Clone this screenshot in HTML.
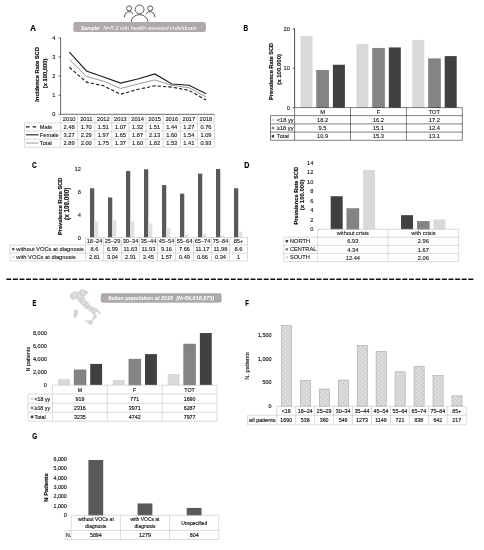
<!DOCTYPE html>
<html><head><meta charset="utf-8"><title>Figure</title>
<style>html,body{margin:0;padding:0;background:#fff;}svg{display:block;font-family:"Liberation Sans", sans-serif;}</style></head>
<body><svg width="484" height="550" viewBox="0 0 484 550">
<rect width="484" height="550" fill="#fff"/>
<text x="30.20" y="30.80" font-size="8.7" text-anchor="start" font-weight="bold" font-style="normal" fill="#000" textLength="5.6" lengthAdjust="spacingAndGlyphs" stroke="#000" stroke-width="0.2">A</text>
<text x="243.40" y="30.80" font-size="8.7" text-anchor="start" font-weight="bold" font-style="normal" fill="#000" textLength="4.6" lengthAdjust="spacingAndGlyphs" stroke="#000" stroke-width="0.2">B</text>
<text x="32.10" y="167.50" font-size="8.7" text-anchor="start" font-weight="bold" font-style="normal" fill="#000" textLength="4.7" lengthAdjust="spacingAndGlyphs" stroke="#000" stroke-width="0.2">C</text>
<text x="244.30" y="167.50" font-size="8.7" text-anchor="start" font-weight="bold" font-style="normal" fill="#000" textLength="5.1" lengthAdjust="spacingAndGlyphs" stroke="#000" stroke-width="0.2">D</text>
<text x="32.50" y="305.60" font-size="8.7" text-anchor="start" font-weight="bold" font-style="normal" fill="#000" textLength="3.7" lengthAdjust="spacingAndGlyphs" stroke="#000" stroke-width="0.2">E</text>
<text x="245.20" y="305.60" font-size="8.7" text-anchor="start" font-weight="bold" font-style="normal" fill="#000" textLength="3.6" lengthAdjust="spacingAndGlyphs" stroke="#000" stroke-width="0.2">F</text>
<text x="32.30" y="438.50" font-size="8.7" text-anchor="start" font-weight="bold" font-style="normal" fill="#000" textLength="4.9" lengthAdjust="spacingAndGlyphs" stroke="#000" stroke-width="0.2">G</text>
<rect x="73.30" y="22.10" width="132.60" height="9.90" fill="#aeaaaa" stroke="none" stroke-width="0" rx="2.5"/>
<text x="81" y="29.6" font-size="5.6" fill="#fff" font-style="italic" font-weight="bold" textLength="19.6" lengthAdjust="spacingAndGlyphs">Sample:</text>
<text x="103.3" y="29.6" font-size="5.6" fill="#fff" font-style="italic" textLength="93.1" lengthAdjust="spacingAndGlyphs">N=5.3 mln health-assisted individuals</text>
<g fill="none" stroke="#585858" stroke-width="1"><circle cx="139.6" cy="9.4" r="4.4"/><path d="M131.2 21.9 A8.4 7.2 0 0 1 148 21.9"/><circle cx="129" cy="8.4" r="2.5"/><path d="M124.3 17.2 A5 5.6 0 0 1 133.4 14"/><circle cx="150.2" cy="8.4" r="2.5"/><path d="M145.8 14 A5 5.6 0 0 1 154.9 17.2"/></g>
<line x1="60.60" y1="38.00" x2="60.60" y2="114.30" stroke="#3a3a3a" stroke-width="0.75" />
<line x1="60.60" y1="114.30" x2="214.50" y2="114.30" stroke="#3a3a3a" stroke-width="0.75" />
<line x1="58.60" y1="114.30" x2="60.60" y2="114.30" stroke="#222" stroke-width="0.7" />
<text x="55.40" y="116.40" font-size="5.7" text-anchor="end" font-weight="normal" font-style="normal" fill="#1a1a1a"  stroke="#1a1a1a" stroke-width="0.12">0</text>
<line x1="58.60" y1="95.22" x2="60.60" y2="95.22" stroke="#222" stroke-width="0.7" />
<text x="55.40" y="97.32" font-size="5.7" text-anchor="end" font-weight="normal" font-style="normal" fill="#1a1a1a"  stroke="#1a1a1a" stroke-width="0.12">1</text>
<line x1="58.60" y1="76.14" x2="60.60" y2="76.14" stroke="#222" stroke-width="0.7" />
<text x="55.40" y="78.24" font-size="5.7" text-anchor="end" font-weight="normal" font-style="normal" fill="#1a1a1a"  stroke="#1a1a1a" stroke-width="0.12">2</text>
<line x1="58.60" y1="57.06" x2="60.60" y2="57.06" stroke="#222" stroke-width="0.7" />
<text x="55.40" y="59.16" font-size="5.7" text-anchor="end" font-weight="normal" font-style="normal" fill="#1a1a1a"  stroke="#1a1a1a" stroke-width="0.12">3</text>
<line x1="58.60" y1="37.98" x2="60.60" y2="37.98" stroke="#222" stroke-width="0.7" />
<text x="55.40" y="40.08" font-size="5.7" text-anchor="end" font-weight="normal" font-style="normal" fill="#1a1a1a"  stroke="#1a1a1a" stroke-width="0.12">4</text>
<text transform="translate(39.30,74.40) rotate(-90)" font-size="5.8" text-anchor="middle" font-weight="bold" fill="#111"  stroke="#111" stroke-width="0.18">Incidence Rate SCD</text>
<text transform="translate(47.20,73.40) rotate(-90)" font-size="5.8" text-anchor="middle" font-weight="bold" fill="#111"  stroke="#111" stroke-width="0.18">(x 100,000)</text>
<polyline points="69.35,59.46 86.45,76.44 103.55,81.21 120.65,88.46 137.75,84.07 154.85,79.87 171.95,85.41 189.05,87.70 206.15,96.86" fill="none" stroke="#9a9a9a" stroke-width="1"/>
<polyline points="69.35,52.21 86.45,70.91 103.55,77.01 120.65,83.12 137.75,78.92 154.85,73.96 171.95,84.07 189.05,85.22 206.15,93.80" fill="none" stroke="#1a1a1a" stroke-width="1.1"/>
<polyline points="69.35,67.28 86.45,82.16 103.55,85.79 120.65,94.18 137.75,89.41 154.85,85.79 171.95,87.12 189.05,90.37 206.15,100.10" fill="none" stroke="#1a1a1a" stroke-width="1.1" stroke-dasharray="3.4 2"/>
<line x1="24.50" y1="122.90" x2="214.50" y2="122.90" stroke="#c4c4c4" stroke-width="0.6" />
<line x1="24.50" y1="131.05" x2="214.50" y2="131.05" stroke="#c4c4c4" stroke-width="0.6" />
<line x1="24.50" y1="139.20" x2="214.50" y2="139.20" stroke="#c4c4c4" stroke-width="0.6" />
<line x1="24.50" y1="147.40" x2="214.50" y2="147.40" stroke="#c4c4c4" stroke-width="0.6" />
<line x1="24.50" y1="122.90" x2="24.50" y2="147.40" stroke="#c4c4c4" stroke-width="0.6" />
<line x1="60.60" y1="114.30" x2="60.60" y2="147.40" stroke="#c4c4c4" stroke-width="0.6" />
<line x1="77.70" y1="114.30" x2="77.70" y2="147.40" stroke="#c4c4c4" stroke-width="0.6" />
<line x1="94.80" y1="114.30" x2="94.80" y2="147.40" stroke="#c4c4c4" stroke-width="0.6" />
<line x1="111.90" y1="114.30" x2="111.90" y2="147.40" stroke="#c4c4c4" stroke-width="0.6" />
<line x1="129.00" y1="114.30" x2="129.00" y2="147.40" stroke="#c4c4c4" stroke-width="0.6" />
<line x1="146.10" y1="114.30" x2="146.10" y2="147.40" stroke="#c4c4c4" stroke-width="0.6" />
<line x1="163.20" y1="114.30" x2="163.20" y2="147.40" stroke="#c4c4c4" stroke-width="0.6" />
<line x1="180.30" y1="114.30" x2="180.30" y2="147.40" stroke="#c4c4c4" stroke-width="0.6" />
<line x1="197.40" y1="114.30" x2="197.40" y2="147.40" stroke="#c4c4c4" stroke-width="0.6" />
<line x1="214.50" y1="114.30" x2="214.50" y2="147.40" stroke="#c4c4c4" stroke-width="0.6" />
<text x="69.15" y="121.20" font-size="5.7" text-anchor="middle" font-weight="normal" font-style="normal" fill="#1a1a1a"  stroke="#1a1a1a" stroke-width="0.12">2010</text>
<text x="86.25" y="121.20" font-size="5.7" text-anchor="middle" font-weight="normal" font-style="normal" fill="#1a1a1a"  stroke="#1a1a1a" stroke-width="0.12">2011</text>
<text x="103.35" y="121.20" font-size="5.7" text-anchor="middle" font-weight="normal" font-style="normal" fill="#1a1a1a"  stroke="#1a1a1a" stroke-width="0.12">2012</text>
<text x="120.45" y="121.20" font-size="5.7" text-anchor="middle" font-weight="normal" font-style="normal" fill="#1a1a1a"  stroke="#1a1a1a" stroke-width="0.12">2013</text>
<text x="137.55" y="121.20" font-size="5.7" text-anchor="middle" font-weight="normal" font-style="normal" fill="#1a1a1a"  stroke="#1a1a1a" stroke-width="0.12">2014</text>
<text x="154.65" y="121.20" font-size="5.7" text-anchor="middle" font-weight="normal" font-style="normal" fill="#1a1a1a"  stroke="#1a1a1a" stroke-width="0.12">2015</text>
<text x="171.75" y="121.20" font-size="5.7" text-anchor="middle" font-weight="normal" font-style="normal" fill="#1a1a1a"  stroke="#1a1a1a" stroke-width="0.12">2016</text>
<text x="188.85" y="121.20" font-size="5.7" text-anchor="middle" font-weight="normal" font-style="normal" fill="#1a1a1a"  stroke="#1a1a1a" stroke-width="0.12">2017</text>
<text x="205.95" y="121.20" font-size="5.7" text-anchor="middle" font-weight="normal" font-style="normal" fill="#1a1a1a"  stroke="#1a1a1a" stroke-width="0.12">2018</text>
<text x="39.80" y="129.10" font-size="5.7" text-anchor="start" font-weight="normal" font-style="normal" fill="#1a1a1a"  stroke="#1a1a1a" stroke-width="0.12">Male</text>
<text x="69.15" y="129.10" font-size="5.7" text-anchor="middle" font-weight="normal" font-style="normal" fill="#1a1a1a"  stroke="#1a1a1a" stroke-width="0.12">2.48</text>
<text x="86.25" y="129.10" font-size="5.7" text-anchor="middle" font-weight="normal" font-style="normal" fill="#1a1a1a"  stroke="#1a1a1a" stroke-width="0.12">1.70</text>
<text x="103.35" y="129.10" font-size="5.7" text-anchor="middle" font-weight="normal" font-style="normal" fill="#1a1a1a"  stroke="#1a1a1a" stroke-width="0.12">1.51</text>
<text x="120.45" y="129.10" font-size="5.7" text-anchor="middle" font-weight="normal" font-style="normal" fill="#1a1a1a"  stroke="#1a1a1a" stroke-width="0.12">1.07</text>
<text x="137.55" y="129.10" font-size="5.7" text-anchor="middle" font-weight="normal" font-style="normal" fill="#1a1a1a"  stroke="#1a1a1a" stroke-width="0.12">1.32</text>
<text x="154.65" y="129.10" font-size="5.7" text-anchor="middle" font-weight="normal" font-style="normal" fill="#1a1a1a"  stroke="#1a1a1a" stroke-width="0.12">1.51</text>
<text x="171.75" y="129.10" font-size="5.7" text-anchor="middle" font-weight="normal" font-style="normal" fill="#1a1a1a"  stroke="#1a1a1a" stroke-width="0.12">1.44</text>
<text x="188.85" y="129.10" font-size="5.7" text-anchor="middle" font-weight="normal" font-style="normal" fill="#1a1a1a"  stroke="#1a1a1a" stroke-width="0.12">1.27</text>
<text x="205.95" y="129.10" font-size="5.7" text-anchor="middle" font-weight="normal" font-style="normal" fill="#1a1a1a"  stroke="#1a1a1a" stroke-width="0.12">0.76</text>
<text x="39.80" y="137.00" font-size="5.7" text-anchor="start" font-weight="normal" font-style="normal" fill="#1a1a1a"  stroke="#1a1a1a" stroke-width="0.12">Female</text>
<text x="69.15" y="137.00" font-size="5.7" text-anchor="middle" font-weight="normal" font-style="normal" fill="#1a1a1a"  stroke="#1a1a1a" stroke-width="0.12">3.27</text>
<text x="86.25" y="137.00" font-size="5.7" text-anchor="middle" font-weight="normal" font-style="normal" fill="#1a1a1a"  stroke="#1a1a1a" stroke-width="0.12">2.29</text>
<text x="103.35" y="137.00" font-size="5.7" text-anchor="middle" font-weight="normal" font-style="normal" fill="#1a1a1a"  stroke="#1a1a1a" stroke-width="0.12">1.97</text>
<text x="120.45" y="137.00" font-size="5.7" text-anchor="middle" font-weight="normal" font-style="normal" fill="#1a1a1a"  stroke="#1a1a1a" stroke-width="0.12">1.65</text>
<text x="137.55" y="137.00" font-size="5.7" text-anchor="middle" font-weight="normal" font-style="normal" fill="#1a1a1a"  stroke="#1a1a1a" stroke-width="0.12">1.87</text>
<text x="154.65" y="137.00" font-size="5.7" text-anchor="middle" font-weight="normal" font-style="normal" fill="#1a1a1a"  stroke="#1a1a1a" stroke-width="0.12">2.13</text>
<text x="171.75" y="137.00" font-size="5.7" text-anchor="middle" font-weight="normal" font-style="normal" fill="#1a1a1a"  stroke="#1a1a1a" stroke-width="0.12">1.60</text>
<text x="188.85" y="137.00" font-size="5.7" text-anchor="middle" font-weight="normal" font-style="normal" fill="#1a1a1a"  stroke="#1a1a1a" stroke-width="0.12">1.54</text>
<text x="205.95" y="137.00" font-size="5.7" text-anchor="middle" font-weight="normal" font-style="normal" fill="#1a1a1a"  stroke="#1a1a1a" stroke-width="0.12">1.09</text>
<text x="39.80" y="145.00" font-size="5.7" text-anchor="start" font-weight="normal" font-style="normal" fill="#1a1a1a"  stroke="#1a1a1a" stroke-width="0.12">Total</text>
<text x="69.15" y="145.00" font-size="5.7" text-anchor="middle" font-weight="normal" font-style="normal" fill="#1a1a1a"  stroke="#1a1a1a" stroke-width="0.12">2.89</text>
<text x="86.25" y="145.00" font-size="5.7" text-anchor="middle" font-weight="normal" font-style="normal" fill="#1a1a1a"  stroke="#1a1a1a" stroke-width="0.12">2.00</text>
<text x="103.35" y="145.00" font-size="5.7" text-anchor="middle" font-weight="normal" font-style="normal" fill="#1a1a1a"  stroke="#1a1a1a" stroke-width="0.12">1.75</text>
<text x="120.45" y="145.00" font-size="5.7" text-anchor="middle" font-weight="normal" font-style="normal" fill="#1a1a1a"  stroke="#1a1a1a" stroke-width="0.12">1.37</text>
<text x="137.55" y="145.00" font-size="5.7" text-anchor="middle" font-weight="normal" font-style="normal" fill="#1a1a1a"  stroke="#1a1a1a" stroke-width="0.12">1.60</text>
<text x="154.65" y="145.00" font-size="5.7" text-anchor="middle" font-weight="normal" font-style="normal" fill="#1a1a1a"  stroke="#1a1a1a" stroke-width="0.12">1.82</text>
<text x="171.75" y="145.00" font-size="5.7" text-anchor="middle" font-weight="normal" font-style="normal" fill="#1a1a1a"  stroke="#1a1a1a" stroke-width="0.12">1.53</text>
<text x="188.85" y="145.00" font-size="5.7" text-anchor="middle" font-weight="normal" font-style="normal" fill="#1a1a1a"  stroke="#1a1a1a" stroke-width="0.12">1.41</text>
<text x="205.95" y="145.00" font-size="5.7" text-anchor="middle" font-weight="normal" font-style="normal" fill="#1a1a1a"  stroke="#1a1a1a" stroke-width="0.12">0.93</text>
<line x1="26.00" y1="126.90" x2="36.20" y2="126.90" stroke="#1a1a1a" stroke-width="1.1" stroke-dasharray="3.4 3.3"/>
<line x1="26.00" y1="134.80" x2="38.60" y2="134.80" stroke="#1a1a1a" stroke-width="1.1" />
<line x1="26.00" y1="143.00" x2="38.40" y2="143.00" stroke="#9a9a9a" stroke-width="1" />
<line x1="294.60" y1="28.50" x2="294.60" y2="107.70" stroke="#222" stroke-width="0.8" />
<line x1="292.60" y1="107.70" x2="294.60" y2="107.70" stroke="#222" stroke-width="0.7" />
<text x="289.80" y="109.80" font-size="5.7" text-anchor="end" font-weight="normal" font-style="normal" fill="#1a1a1a"  stroke="#1a1a1a" stroke-width="0.12">0</text>
<line x1="292.60" y1="68.30" x2="294.60" y2="68.30" stroke="#222" stroke-width="0.7" />
<text x="289.80" y="70.40" font-size="5.7" text-anchor="end" font-weight="normal" font-style="normal" fill="#1a1a1a"  stroke="#1a1a1a" stroke-width="0.12">10</text>
<line x1="292.60" y1="28.90" x2="294.60" y2="28.90" stroke="#222" stroke-width="0.7" />
<text x="289.80" y="31.00" font-size="5.7" text-anchor="end" font-weight="normal" font-style="normal" fill="#1a1a1a"  stroke="#1a1a1a" stroke-width="0.12">20</text>
<text transform="translate(273.20,71.40) rotate(-90)" font-size="5.65" text-anchor="middle" font-weight="bold" fill="#111"  stroke="#111" stroke-width="0.18">Prevalence Rate SCD</text>
<text transform="translate(280.60,69.40) rotate(-90)" font-size="6.05" text-anchor="middle" font-weight="bold" fill="#111"  stroke="#111" stroke-width="0.18">(x 100.000)</text>
<rect x="300.50" y="35.99" width="12.00" height="71.71" fill="#d9d9d9" stroke="none" stroke-width="0" />
<rect x="316.70" y="70.27" width="12.00" height="37.43" fill="#848484" stroke="#6c6c6c" stroke-width="0.5" />
<rect x="332.90" y="64.75" width="12.00" height="42.95" fill="#404040" stroke="none" stroke-width="0" />
<rect x="356.40" y="43.87" width="12.00" height="63.83" fill="#d9d9d9" stroke="none" stroke-width="0" />
<rect x="372.60" y="48.21" width="12.00" height="59.49" fill="#848484" stroke="#6c6c6c" stroke-width="0.5" />
<rect x="388.80" y="47.42" width="12.00" height="60.28" fill="#404040" stroke="none" stroke-width="0" />
<rect x="412.30" y="39.93" width="12.00" height="67.77" fill="#d9d9d9" stroke="none" stroke-width="0" />
<rect x="428.50" y="58.84" width="12.00" height="48.86" fill="#848484" stroke="#6c6c6c" stroke-width="0.5" />
<rect x="444.70" y="56.09" width="12.00" height="51.61" fill="#404040" stroke="none" stroke-width="0" />
<line x1="294.60" y1="107.60" x2="462.30" y2="107.60" stroke="#2a2a2a" stroke-width="0.6" />
<line x1="270.50" y1="115.60" x2="462.30" y2="115.60" stroke="#2a2a2a" stroke-width="0.6" />
<line x1="270.50" y1="123.90" x2="462.30" y2="123.90" stroke="#2a2a2a" stroke-width="0.6" />
<line x1="270.50" y1="132.10" x2="462.30" y2="132.10" stroke="#2a2a2a" stroke-width="0.6" />
<line x1="270.50" y1="140.30" x2="462.30" y2="140.30" stroke="#2a2a2a" stroke-width="0.6" />
<line x1="270.50" y1="115.60" x2="270.50" y2="140.30" stroke="#2a2a2a" stroke-width="0.6" />
<line x1="294.60" y1="107.60" x2="294.60" y2="140.30" stroke="#2a2a2a" stroke-width="0.6" />
<line x1="350.50" y1="107.60" x2="350.50" y2="140.30" stroke="#2a2a2a" stroke-width="0.6" />
<line x1="406.40" y1="107.60" x2="406.40" y2="140.30" stroke="#2a2a2a" stroke-width="0.6" />
<line x1="462.30" y1="107.60" x2="462.30" y2="140.30" stroke="#2a2a2a" stroke-width="0.6" />
<text x="322.55" y="113.80" font-size="5.7" text-anchor="middle" font-weight="normal" font-style="normal" fill="#1a1a1a"  stroke="#1a1a1a" stroke-width="0.12">M</text>
<text x="378.45" y="113.80" font-size="5.7" text-anchor="middle" font-weight="normal" font-style="normal" fill="#1a1a1a"  stroke="#1a1a1a" stroke-width="0.12">F</text>
<text x="434.35" y="113.80" font-size="5.7" text-anchor="middle" font-weight="normal" font-style="normal" fill="#1a1a1a"  stroke="#1a1a1a" stroke-width="0.12">TOT</text>
<rect x="271.70" y="118.50" width="2.50" height="2.50" fill="#d9d9d9" stroke="none" stroke-width="0" />
<text x="276.80" y="121.90" font-size="5.7" text-anchor="start" font-weight="normal" font-style="normal" fill="#1a1a1a"  stroke="#1a1a1a" stroke-width="0.12">&lt;18 yy</text>
<text x="322.55" y="121.90" font-size="5.7" text-anchor="middle" font-weight="normal" font-style="normal" fill="#1a1a1a"  stroke="#1a1a1a" stroke-width="0.12">18.2</text>
<text x="378.45" y="121.90" font-size="5.7" text-anchor="middle" font-weight="normal" font-style="normal" fill="#1a1a1a"  stroke="#1a1a1a" stroke-width="0.12">16.2</text>
<text x="434.35" y="121.90" font-size="5.7" text-anchor="middle" font-weight="normal" font-style="normal" fill="#1a1a1a"  stroke="#1a1a1a" stroke-width="0.12">17.2</text>
<rect x="271.70" y="126.80" width="2.50" height="2.50" fill="#848484" stroke="none" stroke-width="0" />
<text x="276.80" y="130.20" font-size="5.7" text-anchor="start" font-weight="normal" font-style="normal" fill="#1a1a1a"  stroke="#1a1a1a" stroke-width="0.12">≥18 yy</text>
<text x="322.55" y="130.20" font-size="5.7" text-anchor="middle" font-weight="normal" font-style="normal" fill="#1a1a1a"  stroke="#1a1a1a" stroke-width="0.12">9.5</text>
<text x="378.45" y="130.20" font-size="5.7" text-anchor="middle" font-weight="normal" font-style="normal" fill="#1a1a1a"  stroke="#1a1a1a" stroke-width="0.12">15.1</text>
<text x="434.35" y="130.20" font-size="5.7" text-anchor="middle" font-weight="normal" font-style="normal" fill="#1a1a1a"  stroke="#1a1a1a" stroke-width="0.12">12.4</text>
<rect x="271.70" y="135.00" width="2.50" height="2.50" fill="#404040" stroke="none" stroke-width="0" />
<text x="276.80" y="138.40" font-size="5.7" text-anchor="start" font-weight="normal" font-style="normal" fill="#1a1a1a"  stroke="#1a1a1a" stroke-width="0.12">Total</text>
<text x="322.55" y="138.40" font-size="5.7" text-anchor="middle" font-weight="normal" font-style="normal" fill="#1a1a1a"  stroke="#1a1a1a" stroke-width="0.12">10.9</text>
<text x="378.45" y="138.40" font-size="5.7" text-anchor="middle" font-weight="normal" font-style="normal" fill="#1a1a1a"  stroke="#1a1a1a" stroke-width="0.12">15.3</text>
<text x="434.35" y="138.40" font-size="5.7" text-anchor="middle" font-weight="normal" font-style="normal" fill="#1a1a1a"  stroke="#1a1a1a" stroke-width="0.12">13.1</text>
<text x="80.80" y="239.50" font-size="5.7" text-anchor="end" font-weight="normal" font-style="normal" fill="#1a1a1a"  stroke="#1a1a1a" stroke-width="0.12">0</text>
<text x="80.80" y="216.66" font-size="5.7" text-anchor="end" font-weight="normal" font-style="normal" fill="#1a1a1a"  stroke="#1a1a1a" stroke-width="0.12">4</text>
<text x="80.80" y="193.82" font-size="5.7" text-anchor="end" font-weight="normal" font-style="normal" fill="#1a1a1a"  stroke="#1a1a1a" stroke-width="0.12">8</text>
<text x="80.80" y="170.98" font-size="5.7" text-anchor="end" font-weight="normal" font-style="normal" fill="#1a1a1a"  stroke="#1a1a1a" stroke-width="0.12">12</text>
<text transform="translate(62.00,206.30) rotate(-90)" font-size="5.7" text-anchor="middle" font-weight="bold" fill="#111"  stroke="#111" stroke-width="0.18">Prevalence Rate SCD</text>
<text transform="translate(69.00,203.80) rotate(-90)" font-size="6.3" text-anchor="middle" font-weight="bold" fill="#111"  stroke="#111" stroke-width="0.18">(x 100.000)</text>
<rect x="90.00" y="188.29" width="4.25" height="49.11" fill="#595959" stroke="none" stroke-width="0" />
<rect x="94.25" y="221.35" width="4.10" height="16.05" fill="#e0e0e0" stroke="none" stroke-width="0" />
<rect x="108.00" y="197.49" width="4.25" height="39.91" fill="#595959" stroke="none" stroke-width="0" />
<rect x="112.25" y="220.04" width="4.10" height="17.36" fill="#e0e0e0" stroke="none" stroke-width="0" />
<rect x="126.00" y="170.99" width="4.25" height="66.41" fill="#595959" stroke="none" stroke-width="0" />
<rect x="130.25" y="220.78" width="4.10" height="16.62" fill="#e0e0e0" stroke="none" stroke-width="0" />
<rect x="144.00" y="169.28" width="4.25" height="68.12" fill="#595959" stroke="none" stroke-width="0" />
<rect x="148.25" y="223.41" width="4.10" height="13.99" fill="#e0e0e0" stroke="none" stroke-width="0" />
<rect x="162.00" y="185.10" width="4.25" height="52.30" fill="#595959" stroke="none" stroke-width="0" />
<rect x="166.25" y="228.44" width="4.10" height="8.96" fill="#e0e0e0" stroke="none" stroke-width="0" />
<rect x="180.00" y="193.66" width="4.25" height="43.74" fill="#595959" stroke="none" stroke-width="0" />
<rect x="184.25" y="234.60" width="4.10" height="2.80" fill="#e0e0e0" stroke="none" stroke-width="0" />
<rect x="198.00" y="173.62" width="4.25" height="63.78" fill="#595959" stroke="none" stroke-width="0" />
<rect x="202.25" y="233.63" width="4.10" height="3.77" fill="#e0e0e0" stroke="none" stroke-width="0" />
<rect x="216.00" y="168.99" width="4.25" height="68.41" fill="#595959" stroke="none" stroke-width="0" />
<rect x="220.25" y="235.46" width="4.10" height="1.94" fill="#e0e0e0" stroke="none" stroke-width="0" />
<rect x="234.00" y="188.29" width="4.25" height="49.11" fill="#595959" stroke="none" stroke-width="0" />
<rect x="238.25" y="231.69" width="4.10" height="5.71" fill="#e0e0e0" stroke="none" stroke-width="0" />
<line x1="85.50" y1="237.50" x2="247.50" y2="237.50" stroke="#c4c4c4" stroke-width="0.6" />
<line x1="10.00" y1="245.00" x2="247.50" y2="245.00" stroke="#c4c4c4" stroke-width="0.6" />
<line x1="10.00" y1="253.00" x2="247.50" y2="253.00" stroke="#c4c4c4" stroke-width="0.6" />
<line x1="10.00" y1="261.00" x2="247.50" y2="261.00" stroke="#c4c4c4" stroke-width="0.6" />
<line x1="10.00" y1="245.00" x2="10.00" y2="261.00" stroke="#c4c4c4" stroke-width="0.6" />
<line x1="85.50" y1="237.50" x2="85.50" y2="261.00" stroke="#c4c4c4" stroke-width="0.6" />
<line x1="103.50" y1="237.50" x2="103.50" y2="261.00" stroke="#c4c4c4" stroke-width="0.6" />
<line x1="121.50" y1="237.50" x2="121.50" y2="261.00" stroke="#c4c4c4" stroke-width="0.6" />
<line x1="139.50" y1="237.50" x2="139.50" y2="261.00" stroke="#c4c4c4" stroke-width="0.6" />
<line x1="157.50" y1="237.50" x2="157.50" y2="261.00" stroke="#c4c4c4" stroke-width="0.6" />
<line x1="175.50" y1="237.50" x2="175.50" y2="261.00" stroke="#c4c4c4" stroke-width="0.6" />
<line x1="193.50" y1="237.50" x2="193.50" y2="261.00" stroke="#c4c4c4" stroke-width="0.6" />
<line x1="211.50" y1="237.50" x2="211.50" y2="261.00" stroke="#c4c4c4" stroke-width="0.6" />
<line x1="229.50" y1="237.50" x2="229.50" y2="261.00" stroke="#c4c4c4" stroke-width="0.6" />
<line x1="247.50" y1="237.50" x2="247.50" y2="261.00" stroke="#c4c4c4" stroke-width="0.6" />
<text x="94.50" y="243.40" font-size="5.6" text-anchor="middle" font-weight="normal" font-style="normal" fill="#1a1a1a"  stroke="#1a1a1a" stroke-width="0.12">18–24</text>
<text x="112.50" y="243.40" font-size="5.6" text-anchor="middle" font-weight="normal" font-style="normal" fill="#1a1a1a"  stroke="#1a1a1a" stroke-width="0.12">25–29</text>
<text x="130.50" y="243.40" font-size="5.6" text-anchor="middle" font-weight="normal" font-style="normal" fill="#1a1a1a"  stroke="#1a1a1a" stroke-width="0.12">30–34</text>
<text x="148.50" y="243.40" font-size="5.6" text-anchor="middle" font-weight="normal" font-style="normal" fill="#1a1a1a"  stroke="#1a1a1a" stroke-width="0.12">35–44</text>
<text x="166.50" y="243.40" font-size="5.6" text-anchor="middle" font-weight="normal" font-style="normal" fill="#1a1a1a"  stroke="#1a1a1a" stroke-width="0.12">45–54</text>
<text x="184.50" y="243.40" font-size="5.6" text-anchor="middle" font-weight="normal" font-style="normal" fill="#1a1a1a"  stroke="#1a1a1a" stroke-width="0.12">55–64</text>
<text x="202.50" y="243.40" font-size="5.6" text-anchor="middle" font-weight="normal" font-style="normal" fill="#1a1a1a"  stroke="#1a1a1a" stroke-width="0.12">65–74</text>
<text x="220.50" y="243.40" font-size="5.6" text-anchor="middle" font-weight="normal" font-style="normal" fill="#1a1a1a"  stroke="#1a1a1a" stroke-width="0.12">75–84</text>
<text x="238.50" y="243.40" font-size="5.6" text-anchor="middle" font-weight="normal" font-style="normal" fill="#1a1a1a"  stroke="#1a1a1a" stroke-width="0.12">85+</text>
<rect x="12.10" y="247.90" width="2.40" height="2.40" fill="#595959" stroke="none" stroke-width="0" />
<text x="16.30" y="251.20" font-size="5.75" text-anchor="start" font-weight="normal" font-style="normal" fill="#1a1a1a"  stroke="#1a1a1a" stroke-width="0.12">without VOCs at diagnosis</text>
<text x="94.50" y="251.10" font-size="5.7" text-anchor="middle" font-weight="normal" font-style="normal" fill="#1a1a1a"  stroke="#1a1a1a" stroke-width="0.12">8.6</text>
<text x="112.50" y="251.10" font-size="5.7" text-anchor="middle" font-weight="normal" font-style="normal" fill="#1a1a1a"  stroke="#1a1a1a" stroke-width="0.12">6.99</text>
<text x="130.50" y="251.10" font-size="5.7" text-anchor="middle" font-weight="normal" font-style="normal" fill="#1a1a1a"  stroke="#1a1a1a" stroke-width="0.12">11.63</text>
<text x="148.50" y="251.10" font-size="5.7" text-anchor="middle" font-weight="normal" font-style="normal" fill="#1a1a1a"  stroke="#1a1a1a" stroke-width="0.12">11.93</text>
<text x="166.50" y="251.10" font-size="5.7" text-anchor="middle" font-weight="normal" font-style="normal" fill="#1a1a1a"  stroke="#1a1a1a" stroke-width="0.12">9.16</text>
<text x="184.50" y="251.10" font-size="5.7" text-anchor="middle" font-weight="normal" font-style="normal" fill="#1a1a1a"  stroke="#1a1a1a" stroke-width="0.12">7.66</text>
<text x="202.50" y="251.10" font-size="5.7" text-anchor="middle" font-weight="normal" font-style="normal" fill="#1a1a1a"  stroke="#1a1a1a" stroke-width="0.12">11.17</text>
<text x="220.50" y="251.10" font-size="5.7" text-anchor="middle" font-weight="normal" font-style="normal" fill="#1a1a1a"  stroke="#1a1a1a" stroke-width="0.12">11.98</text>
<text x="238.50" y="251.10" font-size="5.7" text-anchor="middle" font-weight="normal" font-style="normal" fill="#1a1a1a"  stroke="#1a1a1a" stroke-width="0.12">8.6</text>
<rect x="12.10" y="255.90" width="2.40" height="2.40" fill="#e0e0e0" stroke="none" stroke-width="0" />
<text x="16.30" y="259.20" font-size="5.75" text-anchor="start" font-weight="normal" font-style="normal" fill="#1a1a1a"  stroke="#1a1a1a" stroke-width="0.12">with VOCs at diagnosis</text>
<text x="94.50" y="259.10" font-size="5.7" text-anchor="middle" font-weight="normal" font-style="normal" fill="#1a1a1a"  stroke="#1a1a1a" stroke-width="0.12">2.81</text>
<text x="112.50" y="259.10" font-size="5.7" text-anchor="middle" font-weight="normal" font-style="normal" fill="#1a1a1a"  stroke="#1a1a1a" stroke-width="0.12">3.04</text>
<text x="130.50" y="259.10" font-size="5.7" text-anchor="middle" font-weight="normal" font-style="normal" fill="#1a1a1a"  stroke="#1a1a1a" stroke-width="0.12">2.91</text>
<text x="148.50" y="259.10" font-size="5.7" text-anchor="middle" font-weight="normal" font-style="normal" fill="#1a1a1a"  stroke="#1a1a1a" stroke-width="0.12">2.45</text>
<text x="166.50" y="259.10" font-size="5.7" text-anchor="middle" font-weight="normal" font-style="normal" fill="#1a1a1a"  stroke="#1a1a1a" stroke-width="0.12">1.57</text>
<text x="184.50" y="259.10" font-size="5.7" text-anchor="middle" font-weight="normal" font-style="normal" fill="#1a1a1a"  stroke="#1a1a1a" stroke-width="0.12">0.49</text>
<text x="202.50" y="259.10" font-size="5.7" text-anchor="middle" font-weight="normal" font-style="normal" fill="#1a1a1a"  stroke="#1a1a1a" stroke-width="0.12">0.66</text>
<text x="220.50" y="259.10" font-size="5.7" text-anchor="middle" font-weight="normal" font-style="normal" fill="#1a1a1a"  stroke="#1a1a1a" stroke-width="0.12">0.34</text>
<text x="238.50" y="259.10" font-size="5.7" text-anchor="middle" font-weight="normal" font-style="normal" fill="#1a1a1a"  stroke="#1a1a1a" stroke-width="0.12">1</text>
<text x="313.30" y="231.30" font-size="5.7" text-anchor="end" font-weight="normal" font-style="normal" fill="#1a1a1a"  stroke="#1a1a1a" stroke-width="0.12">0</text>
<text x="313.30" y="221.76" font-size="5.7" text-anchor="end" font-weight="normal" font-style="normal" fill="#1a1a1a"  stroke="#1a1a1a" stroke-width="0.12">2</text>
<text x="313.30" y="212.22" font-size="5.7" text-anchor="end" font-weight="normal" font-style="normal" fill="#1a1a1a"  stroke="#1a1a1a" stroke-width="0.12">4</text>
<text x="313.30" y="202.68" font-size="5.7" text-anchor="end" font-weight="normal" font-style="normal" fill="#1a1a1a"  stroke="#1a1a1a" stroke-width="0.12">6</text>
<text x="313.30" y="193.14" font-size="5.7" text-anchor="end" font-weight="normal" font-style="normal" fill="#1a1a1a"  stroke="#1a1a1a" stroke-width="0.12">8</text>
<text x="313.30" y="183.60" font-size="5.7" text-anchor="end" font-weight="normal" font-style="normal" fill="#1a1a1a"  stroke="#1a1a1a" stroke-width="0.12">10</text>
<text x="313.30" y="174.06" font-size="5.7" text-anchor="end" font-weight="normal" font-style="normal" fill="#1a1a1a"  stroke="#1a1a1a" stroke-width="0.12">12</text>
<text x="313.30" y="164.52" font-size="5.7" text-anchor="end" font-weight="normal" font-style="normal" fill="#1a1a1a"  stroke="#1a1a1a" stroke-width="0.12">14</text>
<text transform="translate(297.60,195.70) rotate(-90)" font-size="5.7" text-anchor="middle" font-weight="bold" fill="#111"  stroke="#111" stroke-width="0.18">Prevalence Rate SCD</text>
<text transform="translate(304.40,194.80) rotate(-90)" font-size="6.0" text-anchor="middle" font-weight="bold" fill="#111"  stroke="#111" stroke-width="0.18">(x 100.000)</text>
<rect x="330.70" y="196.24" width="12.00" height="33.06" fill="#404040" stroke="none" stroke-width="0" />
<rect x="346.90" y="208.60" width="12.00" height="20.70" fill="#848484" stroke="#6c6c6c" stroke-width="0.5" />
<rect x="363.10" y="169.96" width="12.00" height="59.34" fill="#d9d9d9" stroke="none" stroke-width="0" />
<rect x="401.05" y="215.18" width="12.00" height="14.12" fill="#404040" stroke="none" stroke-width="0" />
<rect x="417.25" y="221.33" width="12.00" height="7.97" fill="#848484" stroke="#6c6c6c" stroke-width="0.5" />
<rect x="433.45" y="219.47" width="12.00" height="9.83" fill="#d9d9d9" stroke="none" stroke-width="0" />
<line x1="317.60" y1="229.30" x2="458.50" y2="229.30" stroke="#c4c4c4" stroke-width="0.6" />
<line x1="283.70" y1="237.20" x2="458.50" y2="237.20" stroke="#c4c4c4" stroke-width="0.6" />
<line x1="283.70" y1="245.35" x2="458.50" y2="245.35" stroke="#c4c4c4" stroke-width="0.6" />
<line x1="283.70" y1="253.45" x2="458.50" y2="253.45" stroke="#c4c4c4" stroke-width="0.6" />
<line x1="283.70" y1="261.55" x2="458.50" y2="261.55" stroke="#c4c4c4" stroke-width="0.6" />
<line x1="283.70" y1="237.20" x2="283.70" y2="261.55" stroke="#c4c4c4" stroke-width="0.6" />
<line x1="317.60" y1="229.30" x2="317.60" y2="261.55" stroke="#c4c4c4" stroke-width="0.6" />
<line x1="388.10" y1="229.30" x2="388.10" y2="261.55" stroke="#c4c4c4" stroke-width="0.6" />
<line x1="458.60" y1="229.30" x2="458.60" y2="261.55" stroke="#c4c4c4" stroke-width="0.6" />
<text x="352.85" y="235.20" font-size="5.6" text-anchor="middle" font-weight="normal" font-style="normal" fill="#1a1a1a"  stroke="#1a1a1a" stroke-width="0.12">without crisis</text>
<text x="423.35" y="235.20" font-size="5.6" text-anchor="middle" font-weight="normal" font-style="normal" fill="#1a1a1a"  stroke="#1a1a1a" stroke-width="0.12">with crisis</text>
<rect x="285.60" y="239.90" width="2.50" height="2.50" fill="#404040" stroke="none" stroke-width="0" />
<text x="289.90" y="243.10" font-size="5.7" text-anchor="start" font-weight="normal" font-style="normal" fill="#1a1a1a"  stroke="#1a1a1a" stroke-width="0.12">NORTH</text>
<text x="352.85" y="243.40" font-size="5.7" text-anchor="middle" font-weight="normal" font-style="normal" fill="#1a1a1a"  stroke="#1a1a1a" stroke-width="0.12">6.93</text>
<text x="423.35" y="243.40" font-size="5.7" text-anchor="middle" font-weight="normal" font-style="normal" fill="#1a1a1a"  stroke="#1a1a1a" stroke-width="0.12">2.96</text>
<rect x="285.60" y="248.05" width="2.50" height="2.50" fill="#848484" stroke="none" stroke-width="0" />
<text x="289.90" y="251.25" font-size="5.7" text-anchor="start" font-weight="normal" font-style="normal" fill="#1a1a1a"  stroke="#1a1a1a" stroke-width="0.12">CENTRAL</text>
<text x="352.85" y="251.55" font-size="5.7" text-anchor="middle" font-weight="normal" font-style="normal" fill="#1a1a1a"  stroke="#1a1a1a" stroke-width="0.12">4.34</text>
<text x="423.35" y="251.55" font-size="5.7" text-anchor="middle" font-weight="normal" font-style="normal" fill="#1a1a1a"  stroke="#1a1a1a" stroke-width="0.12">1.67</text>
<rect x="285.60" y="256.15" width="2.50" height="2.50" fill="#d9d9d9" stroke="none" stroke-width="0" />
<text x="289.90" y="259.35" font-size="5.7" text-anchor="start" font-weight="normal" font-style="normal" fill="#1a1a1a"  stroke="#1a1a1a" stroke-width="0.12">SOUTH</text>
<text x="352.85" y="259.65" font-size="5.7" text-anchor="middle" font-weight="normal" font-style="normal" fill="#1a1a1a"  stroke="#1a1a1a" stroke-width="0.12">12.44</text>
<text x="423.35" y="259.65" font-size="5.7" text-anchor="middle" font-weight="normal" font-style="normal" fill="#1a1a1a"  stroke="#1a1a1a" stroke-width="0.12">2.06</text>
<line x1="6.30" y1="279.30" x2="475.00" y2="279.30" stroke="#111" stroke-width="1.6" stroke-dasharray="5 1.6"/>
<rect x="100.70" y="293.30" width="121.00" height="9.40" fill="#aeaaaa" stroke="none" stroke-width="0" rx="2.4"/>
<text x="108.2" y="300.1" font-size="5.3" text-anchor="start" fill="#fff" font-style="italic" font-weight="bold" textLength="105.9" lengthAdjust="spacingAndGlyphs" xml:space="preserve">Italian population at 2018  (N=59,816,673)</text>
<text transform="translate(46.80,387.00) scale(1,1)" font-size="5.5" text-anchor="end" font-weight="normal" fill="#111" stroke="#111" stroke-width="0.14">0</text>
<text transform="translate(46.80,373.90) scale(1,1)" font-size="5.5" text-anchor="end" font-weight="normal" fill="#111" stroke="#111" stroke-width="0.14">2,000</text>
<text transform="translate(46.80,360.80) scale(1,1)" font-size="5.5" text-anchor="end" font-weight="normal" fill="#111" stroke="#111" stroke-width="0.14">4,000</text>
<text transform="translate(46.80,347.70) scale(1,1)" font-size="5.5" text-anchor="end" font-weight="normal" fill="#111" stroke="#111" stroke-width="0.14">6,000</text>
<text transform="translate(46.80,334.60) scale(1,1)" font-size="5.5" text-anchor="end" font-weight="normal" fill="#111" stroke="#111" stroke-width="0.14">8,000</text>
<text transform="translate(30.20,359.20) rotate(-90)" font-size="5.5" text-anchor="middle" font-weight="normal" fill="#111" textLength="24.8" lengthAdjust="spacingAndGlyphs" stroke="#111" stroke-width="0.12">N patients</text>
<rect x="58.00" y="379.01" width="11.90" height="5.99" fill="#d9d9d9" stroke="none" stroke-width="0" />
<rect x="74.10" y="369.91" width="11.90" height="15.09" fill="#848484" stroke="#6c6c6c" stroke-width="0.5" />
<rect x="90.20" y="363.92" width="11.90" height="21.08" fill="#404040" stroke="none" stroke-width="0" />
<rect x="112.83" y="379.98" width="11.90" height="5.02" fill="#d9d9d9" stroke="none" stroke-width="0" />
<rect x="128.93" y="359.13" width="11.90" height="25.87" fill="#848484" stroke="#6c6c6c" stroke-width="0.5" />
<rect x="145.03" y="354.11" width="11.90" height="30.89" fill="#404040" stroke="none" stroke-width="0" />
<rect x="167.67" y="373.99" width="11.90" height="11.01" fill="#d9d9d9" stroke="none" stroke-width="0" />
<rect x="183.77" y="344.04" width="11.90" height="40.96" fill="#848484" stroke="#6c6c6c" stroke-width="0.5" />
<rect x="199.87" y="333.03" width="11.90" height="51.97" fill="#404040" stroke="none" stroke-width="0" />
<line x1="52.50" y1="385.20" x2="217.00" y2="385.20" stroke="#c4c4c4" stroke-width="0.6" />
<line x1="28.00" y1="394.00" x2="217.00" y2="394.00" stroke="#c4c4c4" stroke-width="0.6" />
<line x1="28.00" y1="403.20" x2="217.00" y2="403.20" stroke="#c4c4c4" stroke-width="0.6" />
<line x1="28.00" y1="412.20" x2="217.00" y2="412.20" stroke="#c4c4c4" stroke-width="0.6" />
<line x1="28.00" y1="421.20" x2="217.00" y2="421.20" stroke="#c4c4c4" stroke-width="0.6" />
<line x1="28.00" y1="394.00" x2="28.00" y2="421.20" stroke="#c4c4c4" stroke-width="0.6" />
<line x1="52.50" y1="385.20" x2="52.50" y2="421.20" stroke="#c4c4c4" stroke-width="0.6" />
<line x1="107.33" y1="385.20" x2="107.33" y2="421.20" stroke="#c4c4c4" stroke-width="0.6" />
<line x1="162.17" y1="385.20" x2="162.17" y2="421.20" stroke="#c4c4c4" stroke-width="0.6" />
<line x1="217.00" y1="385.20" x2="217.00" y2="421.20" stroke="#c4c4c4" stroke-width="0.6" />
<text transform="translate(79.92,391.70) scale(0.93,1)" font-size="5.7" text-anchor="middle" font-weight="normal" fill="#111" stroke="#111" stroke-width="0.14">M</text>
<text transform="translate(134.75,391.70) scale(0.93,1)" font-size="5.7" text-anchor="middle" font-weight="normal" fill="#111" stroke="#111" stroke-width="0.14">F</text>
<text transform="translate(189.58,391.70) scale(0.93,1)" font-size="5.7" text-anchor="middle" font-weight="normal" fill="#111" stroke="#111" stroke-width="0.14">TOT</text>
<rect x="30.80" y="397.40" width="2.60" height="2.60" fill="#d9d9d9" stroke="none" stroke-width="0" />
<text transform="translate(34.50,400.60) scale(0.93,1)" font-size="5.7" text-anchor="start" font-weight="normal" fill="#111" stroke="#111" stroke-width="0.14">&lt;18 yy</text>
<text transform="translate(79.92,400.60) scale(0.93,1)" font-size="5.7" text-anchor="middle" font-weight="normal" fill="#111" stroke="#111" stroke-width="0.14">919</text>
<text transform="translate(134.75,400.60) scale(0.93,1)" font-size="5.7" text-anchor="middle" font-weight="normal" fill="#111" stroke="#111" stroke-width="0.14">771</text>
<text transform="translate(189.58,400.60) scale(0.93,1)" font-size="5.7" text-anchor="middle" font-weight="normal" fill="#111" stroke="#111" stroke-width="0.14">1690</text>
<rect x="30.80" y="406.60" width="2.60" height="2.60" fill="#848484" stroke="none" stroke-width="0" />
<text transform="translate(34.50,409.80) scale(0.93,1)" font-size="5.7" text-anchor="start" font-weight="normal" fill="#111" stroke="#111" stroke-width="0.14">≥18 yy</text>
<text transform="translate(79.92,409.80) scale(0.93,1)" font-size="5.7" text-anchor="middle" font-weight="normal" fill="#111" stroke="#111" stroke-width="0.14">2316</text>
<text transform="translate(134.75,409.80) scale(0.93,1)" font-size="5.7" text-anchor="middle" font-weight="normal" fill="#111" stroke="#111" stroke-width="0.14">3971</text>
<text transform="translate(189.58,409.80) scale(0.93,1)" font-size="5.7" text-anchor="middle" font-weight="normal" fill="#111" stroke="#111" stroke-width="0.14">6287</text>
<rect x="30.80" y="415.60" width="2.60" height="2.60" fill="#404040" stroke="none" stroke-width="0" />
<text transform="translate(34.50,418.80) scale(0.93,1)" font-size="5.7" text-anchor="start" font-weight="normal" fill="#111" stroke="#111" stroke-width="0.14">Total</text>
<text transform="translate(79.92,418.80) scale(0.93,1)" font-size="5.7" text-anchor="middle" font-weight="normal" fill="#111" stroke="#111" stroke-width="0.14">3235</text>
<text transform="translate(134.75,418.80) scale(0.93,1)" font-size="5.7" text-anchor="middle" font-weight="normal" fill="#111" stroke="#111" stroke-width="0.14">4742</text>
<text transform="translate(189.58,418.80) scale(0.93,1)" font-size="5.7" text-anchor="middle" font-weight="normal" fill="#111" stroke="#111" stroke-width="0.14">7977</text>
<defs><pattern id="chk" width="4" height="4" patternUnits="userSpaceOnUse"><rect width="4" height="4" fill="#dcdcdc"/><rect width="2" height="2" fill="#d2d2d2"/><rect x="2" y="2" width="2" height="2" fill="#d2d2d2"/></pattern></defs>
<text transform="translate(271.40,408.20) scale(1,1)" font-size="5.4" text-anchor="end" font-weight="normal" fill="#111" stroke="#111" stroke-width="0.14">0</text>
<text transform="translate(271.40,384.45) scale(1,1)" font-size="5.4" text-anchor="end" font-weight="normal" fill="#111" stroke="#111" stroke-width="0.14">500</text>
<text transform="translate(271.40,360.70) scale(1,1)" font-size="5.4" text-anchor="end" font-weight="normal" fill="#111" stroke="#111" stroke-width="0.14">1,000</text>
<text transform="translate(271.40,336.95) scale(1,1)" font-size="5.4" text-anchor="end" font-weight="normal" fill="#111" stroke="#111" stroke-width="0.14">1,500</text>
<text transform="translate(249.00,366.00) rotate(-90)" font-size="5.8" text-anchor="middle" font-weight="normal" fill="#111"  stroke="#111" stroke-width="0.12">N. patients</text>
<rect x="281.40" y="325.59" width="10.10" height="80.61" fill="url(#chk)" stroke="#a6a6a6" stroke-width="0.6" />
<rect x="300.35" y="380.54" width="10.10" height="25.66" fill="url(#chk)" stroke="#a6a6a6" stroke-width="0.6" />
<rect x="319.30" y="389.03" width="10.10" height="17.17" fill="url(#chk)" stroke="#a6a6a6" stroke-width="0.6" />
<rect x="338.25" y="380.01" width="10.10" height="26.19" fill="url(#chk)" stroke="#a6a6a6" stroke-width="0.6" />
<rect x="357.20" y="345.48" width="10.10" height="60.72" fill="url(#chk)" stroke="#a6a6a6" stroke-width="0.6" />
<rect x="376.15" y="351.39" width="10.10" height="54.81" fill="url(#chk)" stroke="#a6a6a6" stroke-width="0.6" />
<rect x="395.10" y="371.81" width="10.10" height="34.39" fill="url(#chk)" stroke="#a6a6a6" stroke-width="0.6" />
<rect x="414.05" y="366.23" width="10.10" height="39.97" fill="url(#chk)" stroke="#a6a6a6" stroke-width="0.6" />
<rect x="433.00" y="375.58" width="10.10" height="30.62" fill="url(#chk)" stroke="#a6a6a6" stroke-width="0.6" />
<rect x="451.95" y="395.85" width="10.10" height="10.35" fill="url(#chk)" stroke="#a6a6a6" stroke-width="0.6" />
<line x1="276.75" y1="406.30" x2="466.25" y2="406.30" stroke="#c4c4c4" stroke-width="0.6" />
<line x1="247.50" y1="415.30" x2="466.25" y2="415.30" stroke="#c4c4c4" stroke-width="0.6" />
<line x1="247.50" y1="424.80" x2="466.25" y2="424.80" stroke="#c4c4c4" stroke-width="0.6" />
<line x1="247.50" y1="415.30" x2="247.50" y2="424.80" stroke="#c4c4c4" stroke-width="0.6" />
<line x1="276.75" y1="406.30" x2="276.75" y2="424.80" stroke="#c4c4c4" stroke-width="0.6" />
<line x1="295.70" y1="406.30" x2="295.70" y2="424.80" stroke="#c4c4c4" stroke-width="0.6" />
<line x1="314.65" y1="406.30" x2="314.65" y2="424.80" stroke="#c4c4c4" stroke-width="0.6" />
<line x1="333.60" y1="406.30" x2="333.60" y2="424.80" stroke="#c4c4c4" stroke-width="0.6" />
<line x1="352.55" y1="406.30" x2="352.55" y2="424.80" stroke="#c4c4c4" stroke-width="0.6" />
<line x1="371.50" y1="406.30" x2="371.50" y2="424.80" stroke="#c4c4c4" stroke-width="0.6" />
<line x1="390.45" y1="406.30" x2="390.45" y2="424.80" stroke="#c4c4c4" stroke-width="0.6" />
<line x1="409.40" y1="406.30" x2="409.40" y2="424.80" stroke="#c4c4c4" stroke-width="0.6" />
<line x1="428.35" y1="406.30" x2="428.35" y2="424.80" stroke="#c4c4c4" stroke-width="0.6" />
<line x1="447.30" y1="406.30" x2="447.30" y2="424.80" stroke="#c4c4c4" stroke-width="0.6" />
<line x1="466.25" y1="406.30" x2="466.25" y2="424.80" stroke="#c4c4c4" stroke-width="0.6" />
<text transform="translate(286.23,412.80) scale(0.93,1)" font-size="5.7" text-anchor="middle" font-weight="normal" fill="#111" stroke="#111" stroke-width="0.14">&lt;18</text>
<text transform="translate(286.23,421.90) scale(0.93,1)" font-size="5.7" text-anchor="middle" font-weight="normal" fill="#111" stroke="#111" stroke-width="0.14">1690</text>
<text transform="translate(305.18,412.80) scale(0.93,1)" font-size="5.7" text-anchor="middle" font-weight="normal" fill="#111" stroke="#111" stroke-width="0.14">18–24</text>
<text transform="translate(305.18,421.90) scale(0.93,1)" font-size="5.7" text-anchor="middle" font-weight="normal" fill="#111" stroke="#111" stroke-width="0.14">538</text>
<text transform="translate(324.12,412.80) scale(0.93,1)" font-size="5.7" text-anchor="middle" font-weight="normal" fill="#111" stroke="#111" stroke-width="0.14">25–29</text>
<text transform="translate(324.12,421.90) scale(0.93,1)" font-size="5.7" text-anchor="middle" font-weight="normal" fill="#111" stroke="#111" stroke-width="0.14">360</text>
<text transform="translate(343.07,412.80) scale(0.93,1)" font-size="5.7" text-anchor="middle" font-weight="normal" fill="#111" stroke="#111" stroke-width="0.14">30–34</text>
<text transform="translate(343.07,421.90) scale(0.93,1)" font-size="5.7" text-anchor="middle" font-weight="normal" fill="#111" stroke="#111" stroke-width="0.14">549</text>
<text transform="translate(362.02,412.80) scale(0.93,1)" font-size="5.7" text-anchor="middle" font-weight="normal" fill="#111" stroke="#111" stroke-width="0.14">35–44</text>
<text transform="translate(362.02,421.90) scale(0.93,1)" font-size="5.7" text-anchor="middle" font-weight="normal" fill="#111" stroke="#111" stroke-width="0.14">1273</text>
<text transform="translate(380.98,412.80) scale(0.93,1)" font-size="5.7" text-anchor="middle" font-weight="normal" fill="#111" stroke="#111" stroke-width="0.14">45–54</text>
<text transform="translate(380.98,421.90) scale(0.93,1)" font-size="5.7" text-anchor="middle" font-weight="normal" fill="#111" stroke="#111" stroke-width="0.14">1149</text>
<text transform="translate(399.93,412.80) scale(0.93,1)" font-size="5.7" text-anchor="middle" font-weight="normal" fill="#111" stroke="#111" stroke-width="0.14">55–64</text>
<text transform="translate(399.93,421.90) scale(0.93,1)" font-size="5.7" text-anchor="middle" font-weight="normal" fill="#111" stroke="#111" stroke-width="0.14">721</text>
<text transform="translate(418.88,412.80) scale(0.93,1)" font-size="5.7" text-anchor="middle" font-weight="normal" fill="#111" stroke="#111" stroke-width="0.14">65–74</text>
<text transform="translate(418.88,421.90) scale(0.93,1)" font-size="5.7" text-anchor="middle" font-weight="normal" fill="#111" stroke="#111" stroke-width="0.14">838</text>
<text transform="translate(437.82,412.80) scale(0.93,1)" font-size="5.7" text-anchor="middle" font-weight="normal" fill="#111" stroke="#111" stroke-width="0.14">75–84</text>
<text transform="translate(437.82,421.90) scale(0.93,1)" font-size="5.7" text-anchor="middle" font-weight="normal" fill="#111" stroke="#111" stroke-width="0.14">642</text>
<text transform="translate(456.77,412.80) scale(0.93,1)" font-size="5.7" text-anchor="middle" font-weight="normal" fill="#111" stroke="#111" stroke-width="0.14">85+</text>
<text transform="translate(456.77,421.90) scale(0.93,1)" font-size="5.7" text-anchor="middle" font-weight="normal" fill="#111" stroke="#111" stroke-width="0.14">217</text>
<text transform="translate(249.10,421.90) scale(0.97,1)" font-size="5.7" text-anchor="start" font-weight="normal" fill="#111" stroke="#111" stroke-width="0.14">all patients</text>
<text transform="translate(66.80,517.30) scale(1,1)" font-size="5.35" text-anchor="end" font-weight="normal" fill="#111" stroke="#111" stroke-width="0.14">0</text>
<text transform="translate(66.80,507.88) scale(1,1)" font-size="5.35" text-anchor="end" font-weight="normal" fill="#111" stroke="#111" stroke-width="0.14">1,000</text>
<text transform="translate(66.80,498.46) scale(1,1)" font-size="5.35" text-anchor="end" font-weight="normal" fill="#111" stroke="#111" stroke-width="0.14">2,000</text>
<text transform="translate(66.80,489.04) scale(1,1)" font-size="5.35" text-anchor="end" font-weight="normal" fill="#111" stroke="#111" stroke-width="0.14">3,000</text>
<text transform="translate(66.80,479.62) scale(1,1)" font-size="5.35" text-anchor="end" font-weight="normal" fill="#111" stroke="#111" stroke-width="0.14">4,000</text>
<text transform="translate(66.80,470.20) scale(1,1)" font-size="5.35" text-anchor="end" font-weight="normal" fill="#111" stroke="#111" stroke-width="0.14">5,000</text>
<text transform="translate(66.80,460.78) scale(1,1)" font-size="5.35" text-anchor="end" font-weight="normal" fill="#111" stroke="#111" stroke-width="0.14">6,000</text>
<text transform="translate(47.50,487.50) rotate(-90)" font-size="5.8" text-anchor="middle" font-weight="bold" fill="#111"  stroke="#111" stroke-width="0.18">N Patients</text>
<rect x="88.40" y="459.98" width="14.80" height="55.52" fill="#595959" stroke="none" stroke-width="0" />
<rect x="137.57" y="503.45" width="14.80" height="12.05" fill="#595959" stroke="none" stroke-width="0" />
<rect x="186.73" y="507.93" width="14.80" height="7.57" fill="#595959" stroke="none" stroke-width="0" />
<line x1="71.25" y1="515.30" x2="218.75" y2="515.30" stroke="#c4c4c4" stroke-width="0.6" />
<line x1="65.00" y1="530.50" x2="218.75" y2="530.50" stroke="#c4c4c4" stroke-width="0.6" />
<line x1="65.00" y1="539.50" x2="218.75" y2="539.50" stroke="#c4c4c4" stroke-width="0.6" />
<line x1="65.00" y1="530.50" x2="65.00" y2="539.50" stroke="#c4c4c4" stroke-width="0.6" />
<line x1="71.25" y1="515.30" x2="71.25" y2="539.50" stroke="#c4c4c4" stroke-width="0.6" />
<line x1="120.42" y1="515.30" x2="120.42" y2="539.50" stroke="#c4c4c4" stroke-width="0.6" />
<line x1="169.58" y1="515.30" x2="169.58" y2="539.50" stroke="#c4c4c4" stroke-width="0.6" />
<line x1="218.75" y1="515.30" x2="218.75" y2="539.50" stroke="#c4c4c4" stroke-width="0.6" />
<text transform="translate(95.83,521.40) scale(0.94,1)" font-size="5.3" text-anchor="middle" font-weight="normal" fill="#111" stroke="#111" stroke-width="0.14">without VOCs at</text>
<text transform="translate(95.83,527.90) scale(0.94,1)" font-size="5.3" text-anchor="middle" font-weight="normal" fill="#111" stroke="#111" stroke-width="0.14">diagnosis</text>
<text transform="translate(145.00,521.40) scale(0.94,1)" font-size="5.3" text-anchor="middle" font-weight="normal" fill="#111" stroke="#111" stroke-width="0.14">with VOCs at</text>
<text transform="translate(145.00,527.90) scale(0.94,1)" font-size="5.3" text-anchor="middle" font-weight="normal" fill="#111" stroke="#111" stroke-width="0.14">diagnosis</text>
<text transform="translate(194.17,524.80) scale(0.94,1)" font-size="5.3" text-anchor="middle" font-weight="normal" fill="#111" stroke="#111" stroke-width="0.14">Unspecified</text>
<text transform="translate(65.90,537.00) scale(0.93,1)" font-size="5.7" text-anchor="start" font-weight="normal" fill="#111" stroke="#111" stroke-width="0.14">N.</text>
<text transform="translate(95.83,537.00) scale(0.93,1)" font-size="5.7" text-anchor="middle" font-weight="normal" fill="#111" stroke="#111" stroke-width="0.14">5894</text>
<text transform="translate(145.00,537.00) scale(0.93,1)" font-size="5.7" text-anchor="middle" font-weight="normal" fill="#111" stroke="#111" stroke-width="0.14">1279</text>
<text transform="translate(194.17,537.00) scale(0.93,1)" font-size="5.7" text-anchor="middle" font-weight="normal" fill="#111" stroke="#111" stroke-width="0.14">804</text>
<g fill="#d3d3d3" stroke="#dedede" stroke-width="0.4" stroke-linejoin="round"><path d="M70.26 294.33 L71.50 292.88 L73.16 292.47 L74.60 291.02 L76.46 292.06 L78.53 291.44 L80.08 289.99 L83.18 289.37 L85.24 290.40 L87.31 290.82 L88.34 293.30 L86.59 294.12 L85.24 295.16 L84.21 296.60 L84.52 298.67 L86.38 300.53 L88.34 303.11 L90.41 305.38 L92.99 307.14 L96.09 308.17 L98.16 310.03 L100.74 313.44 L99.81 314.17 L97.33 311.89 L95.26 311.48 L95.88 313.75 L96.92 316.02 L95.26 318.61 L93.20 320.78 L91.96 319.74 L93.61 317.06 L92.99 314.58 L90.93 312.10 L88.34 310.03 L85.76 308.38 L83.18 306.31 L81.21 304.25 L79.77 302.80 L78.53 300.53 L76.67 299.08 L74.60 298.67 L72.74 300.12 L71.09 298.67 L70.26 296.40Z"/><path d="M73.67 310.45 L75.95 309.31 L77.60 310.24 L77.70 313.75 L76.57 317.06 L74.40 317.68 L73.47 314.99 L74.19 312.51Z"/><path d="M84.52 320.16 L88.34 320.78 L92.06 319.64 L92.58 322.22 L91.96 324.91 L89.38 323.88 L86.38 321.81Z"/></g><g fill="none" stroke="#f6f6f6" stroke-width="0.45"><path d="M74.60 291.23 L75.95 295.36 L77.50 298.46"/><path d="M78.53 291.44 L79.56 295.88 L84.21 296.91"/><path d="M83.18 289.68 L82.66 294.33"/><path d="M79.56 295.88 L78.53 300.53"/><path d="M81.63 299.50 L86.38 300.53"/><path d="M81.21 304.25 L85.76 302.60"/><path d="M84.21 306.21 L89.07 304.25"/><path d="M87.31 309.31 L91.96 306.73"/><path d="M90.93 312.10 L95.06 309.83"/><path d="M92.99 314.58 L95.88 313.75"/><path d="M72.33 292.78 L73.36 296.40 L75.95 295.36"/></g>
</svg></body></html>
